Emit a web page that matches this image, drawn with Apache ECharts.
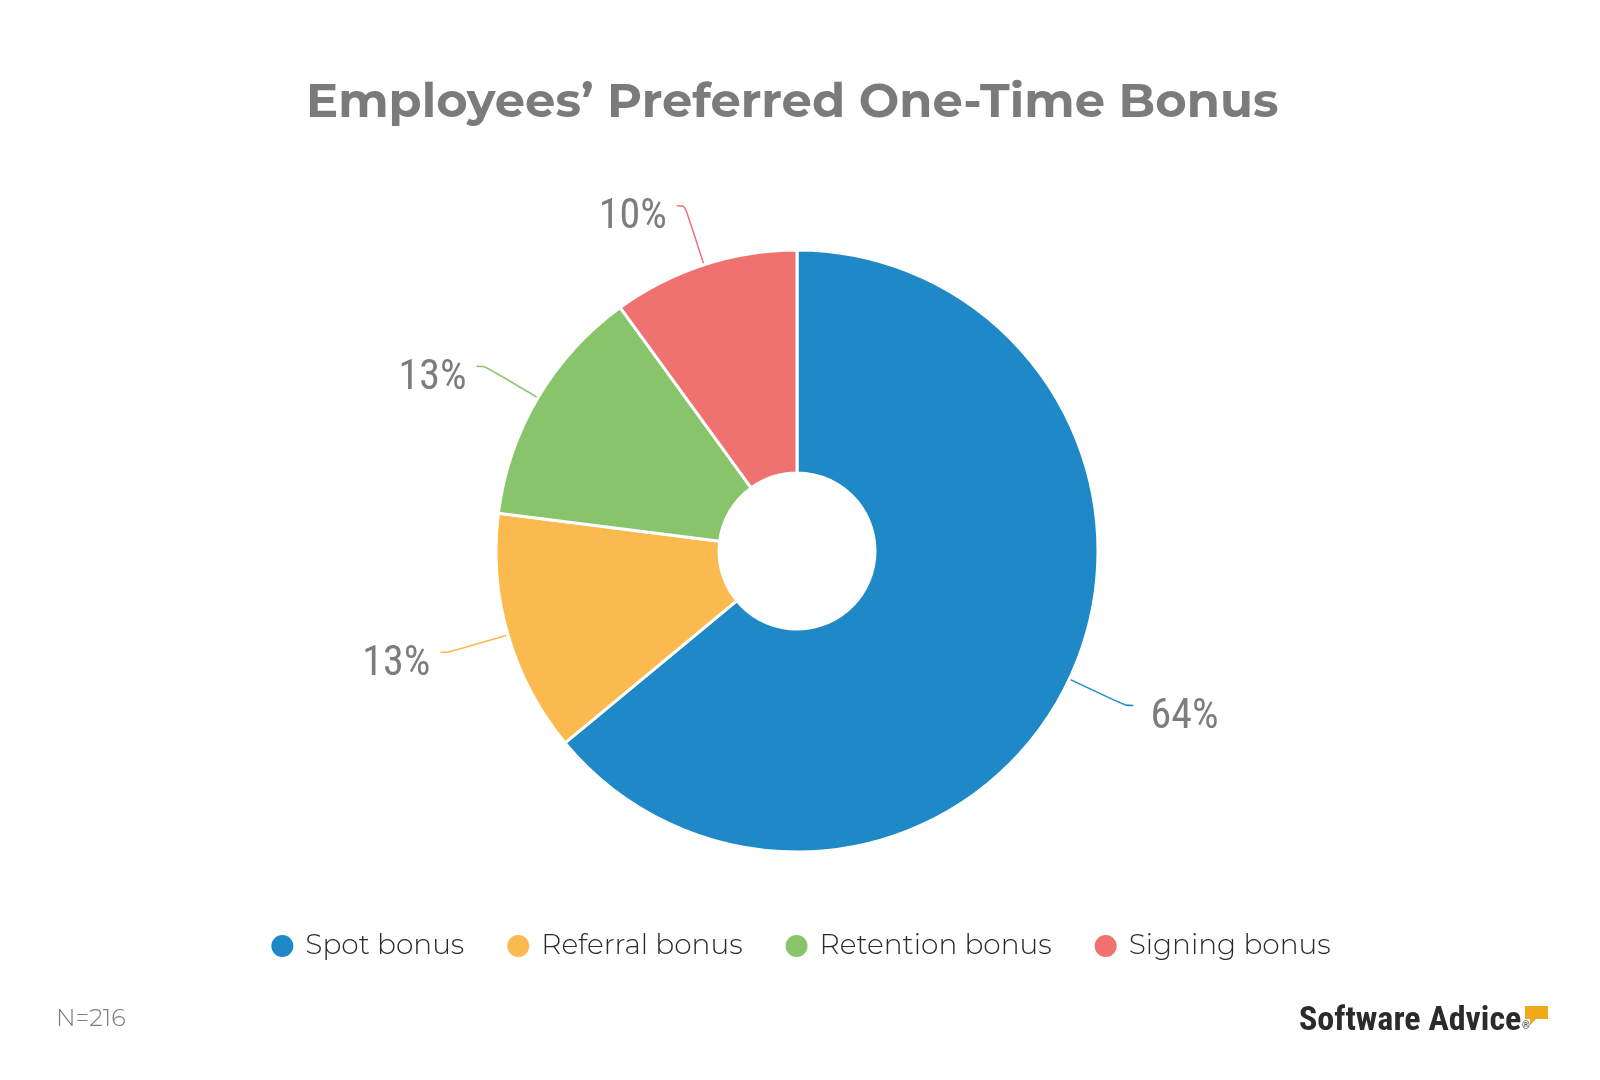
<!DOCTYPE html>
<html>
<head>
<meta charset="utf-8">
<script src="https://cdn.jsdelivr.net/npm/echarts@6/dist/echarts.min.js"></script>
<style>
html,body{margin:0;padding:0;background:#fff;}
#chart{width:1600px;height:1080px;}
</style>
</head>
<body>
<div id="chart"></div>
<script>
const categories = ["Spot bonus", "Referral bonus", "Retention bonus", "Signing bonus"];
const values = [64, 13, 13, 10];
const colors = ["#1f88c6", "#fbba4f", "#88c56a", "#ef7270"];
const titleText = "Employees\u2019 Preferred One-Time Bonus";
const noteText = "N=216";
const brandText = "Software Advice";

const chart = echarts.init(document.getElementById('chart'), null, {renderer: 'canvas'});
const labelFont = '"Roboto Condensed","Liberation Sans Narrow","DejaVu Sans Condensed",sans-serif';

chart.setOption({
  backgroundColor: '#ffffff',
  animation: false,
  color: colors,
  title: {
    text: titleText,
    left: 301,
    top: 74,
    textStyle: {
      fontFamily: 'Montserrat, "Open Sans", sans-serif',
      fontWeight: 'bold',
      fontSize: 48,
      color: '#7b7b7b'
    }
  },
  legend: {
    data: categories,
    left: 'center',
    top: 927,
    icon: 'circle',
    itemWidth: 24,
    itemHeight: 24,
    itemGap: 41,
    textStyle: {
      fontFamily: 'Montserrat, "Open Sans", Lato, sans-serif',
      fontSize: 28,
      fontWeight: 300,
      color: '#2a2a2a',
      padding: [0, 0, 0, 6]
    }
  },
  graphic: [
    {
      type: 'text',
      left: 56,
      top: 1007,
      style: {
        text: noteText,
        font: '300 24px Montserrat, "Open Sans", sans-serif',
        fill: '#7d7d7d'
      }
    },
    {
      type: 'text',
      left: 1299,
      top: 1004,
      style: {
        text: brandText,
        font: 'bold 34px "Roboto Condensed", Roboto, sans-serif',
        fill: '#2b2b2b'
      }
    },
    {
      type: 'text',
      left: 1522,
      top: 1021,
      style: {
        text: '\u00ae',
        font: '10px Roboto, sans-serif',
        fill: '#2b2b2b'
      }
    },
    {
      type: 'polygon',
      shape: { points: [[1525,1006],[1548,1006],[1548,1019],[1536,1019],[1530,1025],[1530,1019],[1525,1019]] },
      style: { fill: '#f0a81c' }
    }
  ],
  series: [{
    type: 'pie',
    center: [797, 551],
    radius: [78, 301],
    startAngle: 90,
    clockwise: true,
    avoidLabelOverlap: false,
    data: categories.map((c, i) => (i === 0
      ? { name: c, value: values[i], label: { distanceToLabelLine: 17 } }
      : { name: c, value: values[i] })),
    itemStyle: { borderColor: '#ffffff', borderWidth: 3 },
    label: {
      show: true,
      position: 'outside',
      formatter: '{s| }\n{v|{c}%}',
      distanceToLabelLine: 10,
      rich: {
        s: { fontSize: 10, lineHeight: 24 },
        v: {
          fontFamily: labelFont,
          fontSize: 42,
          fontWeight: 'normal',
          color: '#7d7d7d',
          lineHeight: 48
        }
      }
    },
    labelLine: {
      show: true,
      length: 62,
      length2: 8,
      smooth: 0.3,
      lineStyle: { width: 1.5 }
    },
    emphasis: { disabled: true }
  }]
});
</script>
</body>
</html>
